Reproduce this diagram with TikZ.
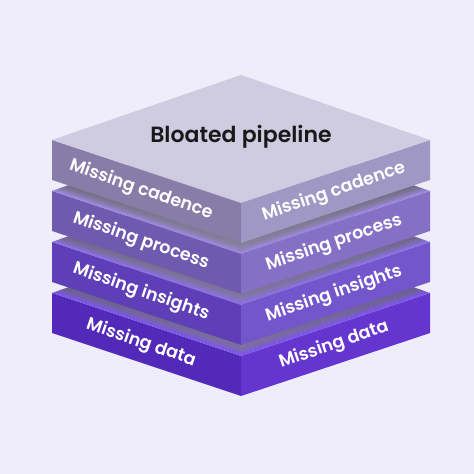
\documentclass[tikz,border=0pt]{standalone}
\usepackage{fontspec}
\setmainfont{Poppins}[BoldFont={Poppins SemiBold}]
\definecolor{bg}{HTML}{EEEDF9}
\definecolor{shade}{HTML}{241060}
\tikzset{
  lbl/.style={text=white,font=\fontsize{17.5}{20}\selectfont\bfseries,inner sep=0pt},
  ttl/.style={text=black!90,font=\fontsize{22}{26}\selectfont\bfseries,inner sep=0pt}
}
\begin{document}
\begin{tikzpicture}[x=1pt,y=1pt]
\fill[bg] (0,0) rectangle (474,474);
\useasboundingbox (0,0) rectangle (474,474);
\foreach \k/\txt/\ct/\cl/\cr in {
  3/Missing data/7D58E8/5229B9/6535D0,
  2/Missing insights/8A70E0/5F3FB8/7456CC,
  1/Missing process/9A88DA/6F5AAF/8570C6,
  0/Missing cadence/CFCBE0/877DA8/A098C4}{
  \pgfmathsetmacro\d{51*\k}
  \pgfmathsetmacro\u{51*(\k-1)}
  \definecolor{ctop}{HTML}{\ct}
  \definecolor{cleft}{HTML}{\cl}
  \definecolor{cright}{HTML}{\cr}
  \coordinate (T\k) at (241,399-\d);
  \coordinate (L\k) at (52,334-\d);
  \coordinate (F\k) at (241,271-\d);
  \coordinate (R\k) at (430,334-\d);
  \coordinate (LB\k) at (52,294-\d);
  \coordinate (FB\k) at (241,231-\d);
  \coordinate (RB\k) at (430,294-\d);
  \fill[cleft] (L\k) -- (F\k) -- (FB\k) -- (LB\k) -- cycle;
  \fill[cright] (F\k) -- (R\k) -- (RB\k) -- (FB\k) -- cycle;
  \fill[ctop] (T\k) -- (L\k) -- (F\k) -- (R\k) -- cycle;
  \ifnum\k>0
  \begin{scope}
    \clip (T\k) -- (L\k) -- (F\k) -- (R\k) -- cycle;
    \foreach \s in {1,...,9}{
      \fill[shade,opacity=0.07,yshift=-\s pt]
        (241,399-\u) -- (52,334-\u) -- (52,294-\u) -- (241,231-\u) -- (430,294-\u) -- (430,334-\u) -- cycle;
    }
  \end{scope}
  \fi
  \node[lbl,rotate=-19] (ll\k) at (141,284-\d) {\txt};
  \node[lbl,rotate=19] (rl\k) at (334,282-\d) {\txt};
}
\node[ttl] (title) at (241,337) {Bloated pipeline};
\end{tikzpicture}
\end{document}
